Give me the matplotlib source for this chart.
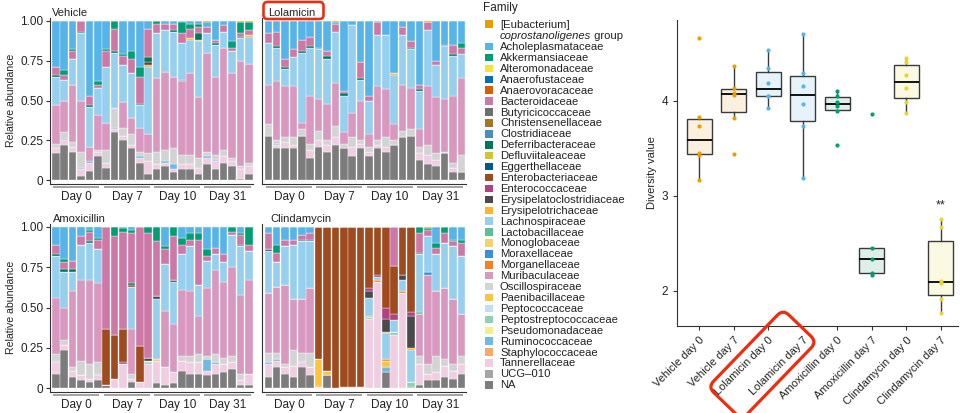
import matplotlib
matplotlib.use("Agg")
import matplotlib.pyplot as plt
import numpy as np
from matplotlib.patches import Rectangle, FancyBboxPatch
from matplotlib.transforms import Affine2D, blended_transform_factory, ScaledTranslation

plt.rcParams['font.family'] = ['Liberation Sans', 'DejaVu Sans']

# ---------------- legend / families ----------------
FAMILY_CODES = ["EUB", "ACH", "AKK", "ALT", "ANF", "ANV", "BAC", "BUT", "CHR", "CLO",
                "DEF", "DEFL", "EGG", "ENTB", "ENTC", "ERYC", "ERYS", "LAC", "LACT",
                "MONO", "MORA", "MORG", "MUR", "OSC", "PAEN", "PEPC", "PEPS", "PSE",
                "RUM", "STA", "TAN", "UCG", "NA"]
FAMILY_NAMES = ["[Eubacterium]", "Acholeplasmataceae", "Akkermansiaceae", "Alteromonadaceae",
                "Anaerofustaceae", "Anaerovoracaceae", "Bacteroidaceae", "Butyricicoccaceae",
                "Christensenellaceae", "Clostridiaceae", "Deferribacteraceae", "Defluviitaleaceae",
                "Eggerthellaceae", "Enterobacteriaceae", "Enterococcaceae",
                "Erysipelatoclostridiaceae", "Erysipelotrichaceae", "Lachnospiraceae",
                "Lactobacillaceae", "Monoglobaceae", "Moraxellaceae", "Morganellaceae",
                "Muribaculaceae", "Oscillospiraceae", "Paenibacillaceae", "Peptococcaceae",
                "Peptostreptococcaceae", "Pseudomonadaceae", "Ruminococcaceae",
                "Staphylococcaceae", "Tannerellaceae", "UCG\u2013010", "NA"]
FAMILY_COLORS = ["#E69F00", "#56B4E9", "#009E73", "#F0E442", "#0072B2", "#D55E00", "#CC79A7",
                 "#6E6E6E", "#A87424", "#4A8DBE", "#007756", "#D4C62A", "#00588A", "#A04A1F",
                 "#B1427F", "#4A4A4A", "#FCB52C", "#97CFEF", "#5EBE98", "#F2D370", "#3A8FD6",
                 "#F5821F", "#D898C0", "#D3D3D3", "#FFC33D", "#BFE0F4", "#8FD1B6", "#F5EE8C",
                 "#6FB9E6", "#F9A86B", "#F0CDE0", "#A5A5A5", "#7C7C7C"]
COLOR = dict(zip(FAMILY_CODES, FAMILY_COLORS))

DAYS = ["Day 0", "Day 7", "Day 10", "Day 31"]
BARS_PER_DAY = 6
PANEL_TITLES = ["Vehicle", "Lolamicin", "Amoxicillin", "Clindamycin"]

# ---------------- relative abundance (24 samples per panel) ----------------
vehicle = {
    "NA":   [.17, .22, .18, .03, .06, .15, .08, .30, .25, .20, .11, .04, .07, .09, .05, .07, .07, .04, .10, .07, .11, .09, .01, .04],
    "TAN":  [.03, .03, .03, .04, .05, .03, .03, .02, .03, .02, .03, .08, .03, .02, .02, .03, .03, .04, .04, .05, .04, .03, .06, .05],
    "RUM":  [0, .01, 0, .01, .01, 0, 0, .01, 0, 0, .01, 0, 0, .01, .03, 0, 0, 0, .01, .01, 0, 0, 0, 0],
    "OSC":  [.03, .04, .03, .10, 0, .01, .08, .12, .05, .07, .03, .05, .08, .07, .10, .06, .06, .06, .03, .03, .04, .02, .02, .02],
    "MUR":  [.24, .20, .36, .32, .09, .22, .17, 0, .16, .10, .15, .12, .46, .49, .45, .46, .51, .38, .62, .49, .64, .53, .66, .62],
    "LACT": [0, 0, 0, 0, 0, 0, 0, 0, 0, 0, 0, 0, 0, 0, 0, .01, 0, 0, 0, 0, 0, 0, 0, 0],
    "LAC":  [.18, .13, .16, .42, .25, .17, .35, .35, .23, .28, .14, .42, .28, .26, .28, .23, .21, .35, .12, .20, .10, .14, .14, .17],
    "ERYS": [0, 0, 0, 0, 0, 0, 0, 0, 0, 0, 0, .01, 0, 0, 0, 0, .01, .01, 0, 0, 0, 0, 0, .01],
    "ERYC": [0, 0, 0, 0, 0, 0, 0, 0, 0, 0, 0, .02, 0, 0, 0, 0, 0, 0, 0, 0, 0, 0, 0, 0],
    "DEF":  [.01, 0, 0, .01, .01, 0, 0, .01, 0, 0, .01, .03, 0, 0, .01, 0, 0, .04, 0, .01, 0, 0, .01, 0],
    "BAC":  [.05, .03, .05, .07, .06, .02, .10, .14, .06, .09, .17, .18, .06, .04, .04, .06, .06, .04, .04, .02, .04, .02, .02, .03],
    "AKK":  [0, .03, .01, 0, 0, .02, .01, .05, .01, .05, .06, 0, .02, 0, 0, .07, .03, .02, 0, 0, 0, .04, .07, .05],
    "ACH":  [.29, .31, .18, 0, .47, .38, .18, 0, .21, .19, .29, .05, 0, .02, .02, .01, .02, .02, .03, .12, .03, .13, 0, 0],
    "EUB":  [0, 0, 0, 0, 0, 0, 0, 0, 0, 0, 0, 0, 0, 0, 0, 0, 0, 0, .01, 0, 0, 0, .01, .01],
}
lolamicin = {
    "NA":   [.28, .20, .20, .20, .28, .14, .21, .18, .22, .20, .15, .20, .15, .20, .18, .22, .27, .28, .13, .10, .09, .17, .05, .05],
    "TAN":  [0, .02, .04, .02, 0, .05, .04, .04, .05, 0, .06, .03, .03, .02, .03, 0, 0, 0, .04, .06, .04, 0, .03, 0],
    "RUM":  [0, .01, 0, 0, 0, 0, 0, 0, 0, 0, 0, 0, 0, 0, 0, 0, 0, 0, 0, 0, 0, 0, 0, 0],
    "OSC":  [.07, .02, .03, .05, .04, .04, .06, .03, .07, .03, .06, .02, .03, .03, .06, .03, .04, .04, .04, .06, .04, .01, .03, .11],
    "MUR":  [.25, .37, .32, .32, .04, .30, .20, .23, .27, .07, .15, .25, .08, .34, .30, .10, .29, .26, .11, .37, .35, .33, .42, .48],
    "LAC":  [.26, .21, .11, .18, .44, .30, .31, .28, .32, .23, .55, .13, .21, .32, .34, .31, .31, .24, .24, .35, .20, .33, .25, .15],
    "ERYS": [0, 0, 0, 0, 0, 0, 0, 0, 0, 0, 0, 0, 0, 0, 0, .01, 0, 0, 0, 0, 0, 0, 0, 0],
    "DEF":  [0, .01, .01, 0, .01, .01, .01, .02, 0, .02, 0, .01, 0, 0, 0, 0, 0, .01, .01, 0, 0, .01, .01, 0],
    "BAC":  [.06, .09, .05, .05, .07, .06, 0, .03, .05, .01, 0, .10, .03, .08, 0, 0, .05, .04, .03, .05, .03, 0, .06, .04],
    "AKK":  [0, 0, 0, 0, 0, 0, 0, 0, 0, 0, 0, 0, 0, 0, 0, 0, 0, 0, 0, 0, 0, 0, 0, .03],
    "ACH":  [.08, .07, .24, .18, .12, .10, .17, .19, .01, .44, .03, .26, .47, .01, .09, .33, .04, .13, .40, 0, .25, .15, .15, .14],
    "EUB":  [0, 0, 0, 0, 0, 0, 0, 0, .01, 0, 0, 0, 0, 0, 0, 0, 0, 0, 0, .01, 0, 0, 0, 0],
}
amoxicillin = {
    "NA":   [.09, .24, .07, .05, .04, .05, .02, 0, 0, .04, 0, 0, .03, .02, .03, .11, .09, .09, .08, .09, .10, .12, .02, .02],
    "TAN":  [.07, .03, .04, .03, .02, .03, 0, .06, .15, .02, .04, .15, .14, .11, .07, .06, .07, .07, .03, .06, .05, .04, .03, .07],
    "RUM":  [.01, 0, 0, 0, 0, .01, 0, 0, 0, 0, 0, 0, 0, 0, 0, 0, 0, 0, .07, .01, 0, 0, 0, 0],
    "PEPS": [0, 0, 0, 0, 0, 0, 0, 0, 0, 0, 0, .01, 0, 0, 0, 0, 0, 0, 0, 0, 0, 0, 0, 0],
    "PAEN": [0, 0, 0, 0, 0, 0, 0, 0, 0, 0, 0, 0, .01, 0, 0, 0, 0, 0, 0, 0, 0, 0, 0, 0],
    "OSC":  [.04, .03, .02, .09, .09, .07, 0, 0, 0, .03, 0, .01, 0, 0, 0, .03, .04, .05, .02, .05, .04, .04, .04, 0],
    "MUR":  [.35, .20, .47, .50, .52, .49, 0, 0, 0, .28, 0, 0, 0, .35, .30, .41, .40, .24, .42, .52, .47, .55, .49, .58],
    "LAC":  [.26, .22, .12, .22, .23, .21, 0, 0, 0, .26, 0, 0, .37, .29, .26, .22, .28, .19, .17, .10, .12, .20, .30, .18],
    "ERYC": [0, 0, 0, 0, 0, 0, 0, 0, 0, 0, 0, .02, .02, 0, .01, 0, 0, 0, 0, 0, 0, 0, 0, 0],
    "ENTC": [0, 0, 0, 0, 0, 0, 0, 0, .01, 0, 0, 0, 0, 0, 0, 0, 0, 0, 0, 0, 0, 0, 0, 0],
    "ENTB": [0, 0, 0, 0, 0, 0, .35, .27, .21, .01, .22, 0, 0, 0, 0, 0, 0, 0, 0, 0, 0, 0, 0, 0],
    "DEF":  [.01, .02, .02, 0, .01, 0, 0, 0, 0, .01, 0, 0, 0, 0, 0, 0, 0, 0, 0, 0, 0, 0, .01, 0],
    "BAC":  [.06, .04, .05, .05, .06, .06, .63, .61, .60, .31, .74, .77, .34, .09, .27, .06, .04, .28, .03, .04, .05, .02, .06, .04],
    "AKK":  [0, .02, 0, 0, .01, .01, 0, .06, .02, .02, 0, .04, .09, .02, .06, .04, .04, .04, .04, 0, 0, .03, .01, .11],
    "ACH":  [.11, .20, .21, .06, .02, .07, 0, 0, .01, .02, 0, 0, 0, .12, 0, .07, .04, .04, .14, .13, .17, 0, .04, 0],
}
clindamycin = {
    "NA":   [.07, .13, .09, .07, .13, .08, 0, .08, 0, 0, 0, 0, 0, 0, .10, 0, 0, .01, .02, .05, .05, .07, .06, .09],
    "TAN":  [.08, .04, .04, .07, .03, .05, .01, 0, 0, 0, 0, 0, .43, .66, 0, .33, .59, 0, .13, .04, .05, .07, .05, .06],
    "RUM":  [.01, .01, 0, 0, .01, 0, 0, 0, 0, 0, 0, 0, 0, 0, .03, 0, 0, 0, 0, 0, 0, 0, 0, 0],
    "PEPS": [0, 0, 0, 0, 0, 0, 0, 0, 0, 0, 0, 0, .01, 0, 0, .02, 0, .03, 0, 0, 0, 0, 0, 0],
    "PAEN": [0, 0, 0, 0, 0, 0, .17, .03, 0, 0, 0, 0, 0, 0, .04, 0, 0, 0, 0, 0, 0, 0, 0, 0],
    "OSC":  [.06, .04, .02, .10, .05, .09, 0, 0, 0, 0, 0, 0, 0, 0, 0, 0, 0, 0, .05, .06, .10, .04, .04, .05],
    "MUR":  [.37, .41, .49, .31, .33, .40, 0, 0, 0, 0, 0, 0, 0, 0, 0, 0, 0, 0, .26, .55, .40, .44, .40, .26],
    "MORG": [0, 0, 0, 0, 0, 0, 0, 0, 0, .01, .01, .01, .01, .01, .01, 0, .01, 0, 0, 0, 0, 0, 0, 0],
    "MORA": [0, 0, 0, 0, 0, 0, 0, 0, 0, 0, 0, 0, 0, 0, 0, 0, 0, 0, 0, .02, 0, 0, 0, 0],
    "LACT": [0, 0, 0, 0, 0, 0, 0, 0, 0, 0, 0, 0, 0, 0, 0, 0, 0, 0, .01, 0, 0, 0, 0, 0],
    "LAC":  [.26, .15, .24, .34, .36, .29, 0, 0, 0, 0, 0, 0, .11, .02, .16, .07, .07, .20, .36, .22, .23, .28, .33, .36],
    "ERYS": [0, 0, 0, 0, 0, 0, 0, 0, 0, 0, 0, 0, 0, 0, .01, 0, 0, .01, 0, 0, 0, 0, 0, 0],
    "ERYC": [.01, 0, 0, 0, 0, 0, 0, 0, 0, 0, 0, 0, .04, 0, .08, 0, .03, .20, 0, 0, 0, 0, 0, 0],
    "ENTC": [0, 0, 0, 0, 0, 0, 0, 0, 0, 0, 0, 0, .02, .01, .07, .04, 0, .02, 0, 0, 0, 0, 0, 0],
    "ENTB": [0, 0, 0, 0, 0, 0, .82, .89, 1.0, .99, .99, .99, .38, .30, .50, .30, .30, .53, 0, 0, 0, 0, 0, 0],
    "DEF":  [0, 0, 0, 0, .01, .01, 0, 0, 0, 0, 0, 0, 0, 0, 0, 0, 0, 0, .01, 0, 0, 0, 0, 0],
    "BAC":  [.10, .06, .04, .03, .03, .04, 0, 0, 0, 0, 0, 0, 0, 0, 0, .24, 0, 0, .12, .04, .04, .06, .03, .08],
    "AKK":  [0, .05, 0, 0, 0, 0, 0, 0, 0, 0, 0, 0, 0, 0, 0, 0, 0, 0, .04, .01, .03, .04, .01, .02],
    "ACH":  [.04, .11, .08, .08, .05, .04, 0, 0, 0, 0, 0, 0, 0, 0, 0, 0, 0, 0, 0, 0, .10, 0, .08, .08],
    "EUB":  [0, 0, 0, 0, 0, 0, 0, 0, 0, 0, 0, 0, 0, 0, 0, 0, 0, 0, 0, .01, 0, 0, 0, 0],
}

# ---------------- diversity boxplot ----------------
div_groups = ["Vehicle day 0", "Vehicle day 7", "Lolamicin day 0", "Lolamicin day 7",
              "Amoxicillin day 0", "Amoxicillin day 7", "Clindamycin day 0", "Clindamycin day 7"]
div_values = [
    [4.66, 3.83, 3.73, 3.45, 3.43, 3.16],
    [4.36, 4.13, 4.08, 4.06, 3.82, 3.44],
    [4.53, 4.34, 4.19, 4.05, 4.05, 3.92],
    [4.70, 4.29, 4.15, 3.96, 3.73, 3.19],
    [4.10, 4.05, 3.99, 3.94, 3.89, 3.53],
    [3.86, 2.45, 2.33, 2.19, 2.16],
    [4.45, 4.41, 4.27, 4.13, 3.99, 3.87],
    [2.75, 2.67, 2.10, 2.08, 1.91, 1.77],
]
div_point_colors = ["#E69F00", "#E69F00", "#56B4E9", "#56B4E9", "#009E73", "#009E73", "#E9D532", "#E9D532"]
div_box_fills = ["#FBF0E0", "#FBF0E0", "#E6F3FB", "#E6F3FB", "#DDEFE8", "#DDEFE8", "#FCF9E2", "#FCF9E2"]
signif_label = "**"
signif_y = 2.90

# ---------------- figure ----------------
W, H = 960, 413
fig = plt.figure(figsize=(W / 100, H / 100), dpi=100)


def px_axes(x0, y_top, x1, y_bot):
    return fig.add_axes([x0 / W, (H - y_bot) / H, (x1 - x0) / W, (y_bot - y_top) / H])


SPINE = "#333333"
panel_boxes = [(49.5, 17.5, 253.5, 183.5), (262, 17.5, 466, 183.5),
               (49.5, 223.5, 253.5, 391.5), (262, 223.5, 466, 391.5)]
title_shift_px = [2.5, 6, 3.5, 8]
panel_data = [vehicle, lolamicin, amoxicillin, clindamycin]

for k, (box, data, title) in enumerate(zip(panel_boxes, panel_data, PANEL_TITLES)):
    ax = px_axes(*box)
    n = len(data["NA"])
    x = np.arange(n)
    bottom = np.zeros(n)
    for code in reversed(FAMILY_CODES):
        if code in data:
            v = np.array(data[code], dtype=float)
            ax.bar(x, v, bottom=bottom, width=0.9, color=COLOR[code],
                   edgecolor="white", linewidth=0.25)
            bottom += v
    ax.set_xlim(-0.75, n - 0.45)
    ax.set_ylim(-0.02, 1.02)
    for s in ["top", "right"]:
        ax.spines[s].set_visible(False)
    for s in ["left", "bottom"]:
        ax.spines[s].set_color(SPINE)
        ax.spines[s].set_linewidth(0.8)
    ax.set_xticks([])
    if k % 2 == 0:
        ax.set_yticks([0, 0.25, 0.5, 0.75, 1.0])
        ax.set_yticklabels(["0", "0.25", "0.50", "0.75", "1.00"])
        ax.tick_params(axis="y", length=3, width=0.8, color=SPINE, labelsize=8.5, pad=1.5,
                       labelcolor="#222222")
        ax.set_ylabel("Relative abundance", fontsize=7.6, labelpad=3, color="#222222")
    else:
        ax.set_yticks([])
    shift = ScaledTranslation(title_shift_px[k] / 100, 0, fig.dpi_scale_trans)
    ax.text(0.0, 1.0, title, transform=ax.transAxes + shift, fontsize=8, ha="left",
            va="bottom", color="#222222")
    trans = blended_transform_factory(ax.transData, ax.transAxes)
    for g, lab in enumerate(DAYS):
        x0 = g * BARS_PER_DAY - 0.3
        x1 = g * BARS_PER_DAY + BARS_PER_DAY - 0.8
        ax.plot([x0, x1], [-0.021, -0.021], transform=trans, color="#8a8a8a", lw=1.1,
                clip_on=False, solid_capstyle="butt")
        ax.text(g * BARS_PER_DAY + (BARS_PER_DAY - 1) / 2, -0.082, lab, transform=trans,
                ha="center", va="center", fontsize=8.5, color="#222222")

# ---------------- boxplot panel ----------------
axb = px_axes(677, 20, 958, 326)
pos = np.arange(len(div_groups))
bp = axb.boxplot(div_values, positions=pos, widths=0.72, patch_artist=True, showfliers=False,
                 whis=1.5, medianprops=dict(color="black", linewidth=1.3),
                 boxprops=dict(edgecolor="#3a3a3a", linewidth=1.0),
                 whiskerprops=dict(color="#3a3a3a", linewidth=1.0),
                 capprops=dict(visible=False))
for patch, fc in zip(bp["boxes"], div_box_fills):
    patch.set_facecolor(fc)
for i, (vals, c) in enumerate(zip(div_values, div_point_colors)):
    axb.scatter(np.full(len(vals), pos[i]), vals, s=9, color=c, zorder=3, linewidths=0)
axb.text(pos[-1], signif_y, signif_label, ha="center", va="center", fontsize=9, color="#222222")
axb.set_xlim(-0.65, 7.5)
axb.set_ylim(1.628, 4.849)
axb.set_yticks([2, 3, 4])
axb.set_xticks(pos)
axb.set_xticklabels(div_groups, rotation=45, ha="right", rotation_mode="anchor")
axb.tick_params(axis="both", length=3, width=0.8, color=SPINE, labelsize=8, labelcolor="#222222")
axb.tick_params(axis="y", labelsize=8.5)
axb.set_ylabel("Diversity value", fontsize=8, labelpad=3, color="#222222")
for s in ["top", "right"]:
    axb.spines[s].set_visible(False)
for s in ["left", "bottom"]:
    axb.spines[s].set_color(SPINE)
    axb.spines[s].set_linewidth(0.8)

# ---------------- overlay: legend and red highlights ----------------
ov = fig.add_axes([0, 0, 1, 1])
ov.set_xlim(0, W)
ov.set_ylim(H, 0)
ov.axis("off")
ov.patch.set_visible(False)

ov.text(483, 7.5, "Family", fontsize=8.5, ha="left", va="center", color="#222222")
LEG_X, LEG_TX, SQ = 485, 500, 7.5
ov.add_patch(Rectangle((LEG_X, 24 - SQ / 2), SQ, SQ, color=COLOR["EUB"], lw=0))
ov.text(LEG_TX, 25, FAMILY_NAMES[0], fontsize=8.1, ha="left", va="center", color="#222222")
t_it = ov.text(LEG_TX, 36, "coprostanoligenes", fontsize=8.1, ha="left", va="center",
               style="italic", color="#222222")
ov.annotate(" group", xy=(1, 0.5), xycoords=t_it, fontsize=8.1, ha="left", va="center",
            color="#222222")
row_y0, row_dy = 46.6, 10.91
for i, (code, name) in enumerate(zip(FAMILY_CODES[1:], FAMILY_NAMES[1:])):
    yc = row_y0 + i * row_dy
    ov.add_patch(Rectangle((LEG_X, yc - SQ / 2), SQ, SQ, color=COLOR[code], lw=0))
    ov.text(LEG_TX, yc + 0.5, name, fontsize=8.1, ha="left", va="center", color="#222222")

RED = "#EE2D10"
ov.add_patch(FancyBboxPatch((263.5, 2), 60, 17, boxstyle="round,pad=0,rounding_size=4",
                            fill=False, edgecolor=RED, lw=1.9))
rot = Affine2D().rotate_deg(-46).translate(708, 387)
ov.add_patch(FancyBboxPatch((0, 0), 108, 47, boxstyle="round,pad=0,rounding_size=8",
                            fill=False, edgecolor=RED, lw=2.3, transform=rot + ov.transData,
                            clip_on=False))

fig.savefig("out.png", dpi=100)
